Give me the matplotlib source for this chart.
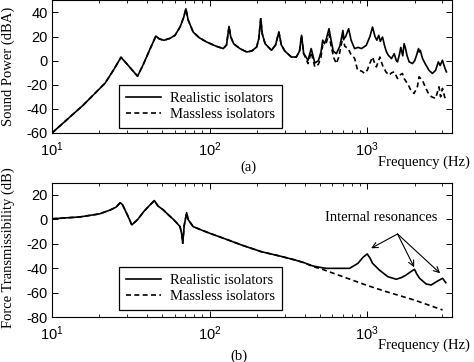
import matplotlib
matplotlib.use('Agg')
import matplotlib.pyplot as plt
from matplotlib.ticker import LogLocator, NullFormatter

plt.rcParams['font.family'] = 'Liberation Sans'
plt.rcParams['mathtext.fontset'] = 'custom'
plt.rcParams['mathtext.rm'] = 'Liberation Sans'
plt.rcParams['axes.unicode_minus'] = False

# (a) sound power, common part below ~400 Hz
freq_low = [10, 15.8, 21.7, 24.5, 27.4, 30, 34.9, 38, 42, 45.6, 48, 51.3, 56, 60.3, 65, 68.5,
            70.7, 73, 78.6, 86, 95.6, 110, 122, 128, 132.8, 136, 142, 155.7, 172, 185, 198.8,
            205, 211, 216, 225, 247, 262, 275, 285, 300, 330, 355, 372, 383, 395]
sp_low = [-60, -36.8, -18.7, -8, 2.8, -3, -12.9, -3, 10, 20.4, 18, 16.9, 18.5, 21, 28, 36,
          43, 34, 23.7, 19, 15.5, 12, 10, 13, 28.4, 20, 14, 10, 7.2, 8, 11.3,
          18, 34.8, 22, 14, 8.6, 13, 23.7, 13, 8, 3, 3, 8, 21, 6]

freq_real = [421, 441, 465, 490, 509, 522, 535, 550, 572, 590, 608, 637, 670, 701, 711, 730,
             762, 790, 831, 876, 920, 986, 1040, 1080, 1120, 1150, 1183, 1210, 1250, 1290,
             1325, 1360, 1425, 1483, 1530, 1556, 1600, 1633, 1680, 1714, 1750, 1790, 1845,
             1937, 2000, 2050, 2115, 2140, 2170, 2240, 2328, 2465, 2590, 2716, 2825, 2900,
             3000, 3117, 3180]
sp_real = [0.3, 10, -2, 0, 7.2, 17, 14, 18, 26.5, 17, 8, 5.8, 12, 25, 18, 20,
           26.5, 17, 10, 11, 10, 12.7, 20, 27.9, 20, 17, 21, 16, 19.6, 12,
           7.2, 4.5, 1.7, 5.8, 0, -1, 5, 11, 4, 14.1, 10, 4, -1,
           -2.4, 0, 4, 10, 7.2, 8.6, 2, -2.4, -8, -10.6, -8, -1, -4,
           0.3, -6.6, -9.3]

freq_mass = [421, 441, 465, 490, 509, 522, 550, 572, 590, 615, 637, 660, 701, 720, 757, 790,
             831, 869, 893, 930, 960, 1000, 1040, 1080, 1120, 1143, 1203, 1250, 1313, 1377,
             1430, 1483, 1556, 1610, 1672, 1714, 1825, 1888, 1982, 2080, 2133, 2240, 2330,
             2445, 2560, 2716, 2851, 2920, 3000, 3117, 3180]
sp_mass = [-2.4, 7, -5.2, -3, 3, 13, 15, 22, 12, 2, -2.4, 3, 20, 12, 10, 5,
           2, -8, -8, -9, -10.6, -8, -2, 3, -3, -5.2, 3, -3.8, -9.3, -12,
           -10, -9.3, -14.8, -12, -10.6, -14.8, -20.3, -24.4, -27.2, -21.7, -13.4, -16.2, -21.7,
           -27.2, -30, -31.3, -21.7, -30, -23, -31.3, -32.7]

# (b) force transmissibility
freq_ft = [10, 15, 20, 23.4, 25.5, 27.1, 28, 30, 32.1, 35, 38.2, 42, 44.6, 47, 50.9, 55, 58.8,
           62, 64.9, 66.5, 67.5, 69, 71.5, 73, 78.6, 90, 100, 131, 160, 213, 280, 347, 400]
ft_low = [0.5, 2, 4.5, 7.7, 10, 13.7, 12, 4, -4.5, 0, 6.4, 12, 15.4, 11, 7.7, 3.5, 0.1,
          -3, -5.9, -12, -19.5, -5, 5.5, 0, -5.9, -9, -11.3, -16.8, -21, -26.4, -30, -33.1, -35.5]

freq_ft_real = [450, 512, 552, 650, 773, 873, 940, 1000, 1040, 1081, 1192, 1350, 1528, 1650,
                1767, 1900, 1995, 2060, 2147, 2366, 2545, 2750, 3006, 3150]
ft_real = [-38, -39.4, -40, -40, -40, -35.9, -31, -28.2, -31.5, -35.9, -41.3, -46.8, -48.9, -47.5,
           -45.4, -42.5, -40.8, -44.5, -48.1, -52.8, -53.6, -50.9, -48.1, -51.7]

freq_ft_mass = [450, 512, 1000, 1318, 2000, 3006]
ft_mass = [-38.5, -40.5, -54, -59, -66, -74]

serif = 'Liberation Serif'
fig = plt.figure(figsize=(4.74, 3.62), dpi=100)
ax1 = fig.add_axes([0.1097, 0.6326, 0.8439, 0.3664])
ax2 = fig.add_axes([0.1097, 0.1235, 0.8439, 0.3718])

ax1.plot(freq_low + freq_real, sp_low + sp_real, 'k-', lw=1.2, label='Realistic isolators')
ax1.plot(freq_low + freq_mass, sp_low + sp_mass, 'k--', lw=1.2, dashes=(3, 2), label='Massless isolators')
ax1.set_ylim(-60, 50)
ax1.set_yticks([-60, -40, -20, 0, 20, 40])

ax2.plot(freq_ft + freq_ft_real, ft_low + ft_real, 'k-', lw=1.2, label='Realistic isolators')
ax2.plot(freq_ft + freq_ft_mass, ft_low + ft_mass, 'k--', lw=1.2, dashes=(3, 2), label='Massless isolators')
ax2.set_ylim(-80, 30)
ax2.set_yticks([-80, -60, -40, -20, 0, 20])

ax2.text(1230, 1.2, 'Internal resonances', family=serif, fontsize=10.5, ha='center', va='center')
for target in [(1058, -23.6), (1985, -39.1), (2900, -44)]:
    ax2.annotate('', xy=target, xytext=(1557, -11.9),
                 arrowprops=dict(arrowstyle='->', lw=0.8, color='k', mutation_scale=10,
                                 shrinkA=0, shrinkB=0))

for ax, bottom in [(ax1, 0.0376), (ax2, 0.054)]:
    ax.set_xscale('log')
    ax.set_xlim(10, 3450)
    ax.xaxis.set_major_locator(LogLocator(base=10, numticks=10))
    ax.xaxis.set_minor_locator(LogLocator(base=10, subs=range(2, 10), numticks=10))
    ax.xaxis.set_minor_formatter(NullFormatter())
    ax.tick_params(which='both', direction='in', top=True, right=True, labelsize=10.5)
    ax.tick_params(axis='x', pad=5)
    ax.tick_params(axis='y', pad=3)
    ax.tick_params(which='major', length=4, width=0.7)
    ax.tick_params(which='minor', length=2.5, width=0.6)
    for s in ax.spines.values():
        s.set_linewidth(0.8)
    leg = ax.legend(loc='lower left', bbox_to_anchor=(0.1675, bottom), borderaxespad=0,
                    fancybox=False, edgecolor='k', framealpha=1, handlelength=2.4,
                    handletextpad=0.6, labelspacing=0.15, borderpad=0.5,
                    prop={'family': serif, 'size': 10.5})
    leg.get_frame().set_linewidth(0.9)

fig.text(8 / 474, 1 - 66 / 362, 'Sound Power (dBA)', family=serif, fontsize=10.5,
         rotation=90, ha='center', va='center')
fig.text(8 / 474, 1 - 248 / 362, 'Force Transmissibility (dB)', family=serif, fontsize=10.5,
         rotation=90, ha='center', va='center')
fig.text(470 / 474, 1 - 162 / 362, 'Frequency (Hz)', family=serif, fontsize=10.5, ha='right', va='center')
fig.text(248 / 474, 1 - 167 / 362, '(a)', family=serif, fontsize=10.5, ha='center', va='center')
fig.text(470 / 474, 1 - 345 / 362, 'Frequency (Hz)', family=serif, fontsize=10.5, ha='right', va='center')
fig.text(239 / 474, 1 - 356 / 362, '(b)', family=serif, fontsize=10.5, ha='center', va='center')

plt.savefig('out.png', dpi=100)
